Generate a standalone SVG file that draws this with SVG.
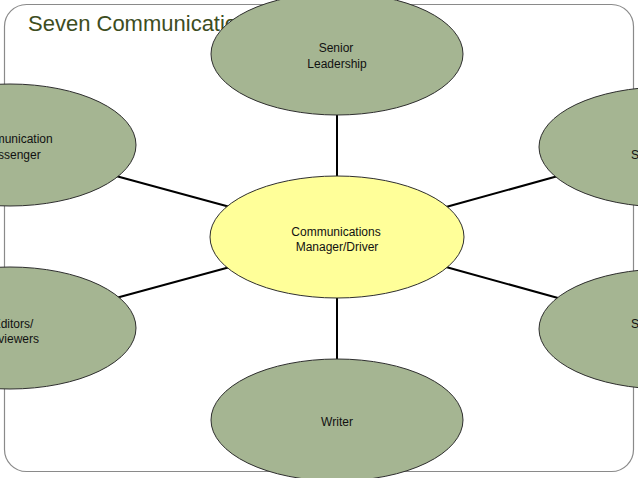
<svg xmlns="http://www.w3.org/2000/svg" width="638" height="478" viewBox="0 0 638 478">
<style>
.frame{fill:#fff;stroke:#8a8a8a;stroke-width:1.2}
.node{fill:#a5b592;stroke:#2e2e2e;stroke-width:1}
.hub{fill:#ffff99;stroke:#2e2e2e;stroke-width:1}
.lbl{font-family:"Liberation Sans",Arial,sans-serif;font-size:12px;fill:#111;text-anchor:middle}
.edge{stroke:#000;stroke-width:2;fill:none}
.title{font-family:"Liberation Sans",Arial,sans-serif;font-size:22px;fill:#3d4d1e}
</style>
<rect width="638" height="478" fill="#fff"/>
<rect class="frame" x="4.5" y="4.5" width="629" height="467" rx="22" ry="22"/>
<text class="title" x="28" y="31">Seven Communications</text>
<g id="connectors">
<line class="edge" x1="337" y1="112" x2="337" y2="178"/>
<line class="edge" x1="337" y1="296" x2="337" y2="361"/>
<line class="edge" x1="116" y1="176" x2="230" y2="207"/>
<line class="edge" x1="116" y1="298" x2="230" y2="267"/>
<line class="edge" x1="446" y1="207" x2="558" y2="176"/>
<line class="edge" x1="446" y1="267" x2="558" y2="298"/>
</g>
<g id="senior">
<ellipse class="node" cx="337" cy="54" rx="126" ry="61"/>
<text class="lbl" x="336" y="52">Senior</text>
<text class="lbl" x="337" y="68">Leadership</text>
</g>
<g id="hub">
<ellipse class="hub" cx="337" cy="237" rx="127" ry="61"/>
<text class="lbl" x="336" y="236">Communications</text>
<text class="lbl" x="337" y="251">Manager/Driver</text>
</g>
<g id="messenger">
<ellipse class="node" cx="10" cy="145" rx="126" ry="61"/>
<text class="lbl" x="11" y="143">Communication</text>
<text class="lbl" x="11" y="159">Messenger</text>
</g>
<g id="reviewers">
<ellipse class="node" cx="10" cy="328" rx="126" ry="61"/>
<text class="lbl" x="13" y="328">Editors/</text>
<text class="lbl" x="11" y="343">Reviewers</text>
</g>
<g id="right-upper">
<ellipse class="node" cx="665" cy="147" rx="126" ry="60"/>
<text class="lbl" x="631" y="159" style="text-anchor:start">S</text>
</g>
<g id="right-lower">
<ellipse class="node" cx="665" cy="329" rx="126" ry="60"/>
<text class="lbl" x="631" y="328" style="text-anchor:start">S</text>
</g>
<g id="writer">
<ellipse class="node" cx="337" cy="420" rx="126" ry="61"/>
<text class="lbl" x="337" y="426">Writer</text>
</g>
</svg>
